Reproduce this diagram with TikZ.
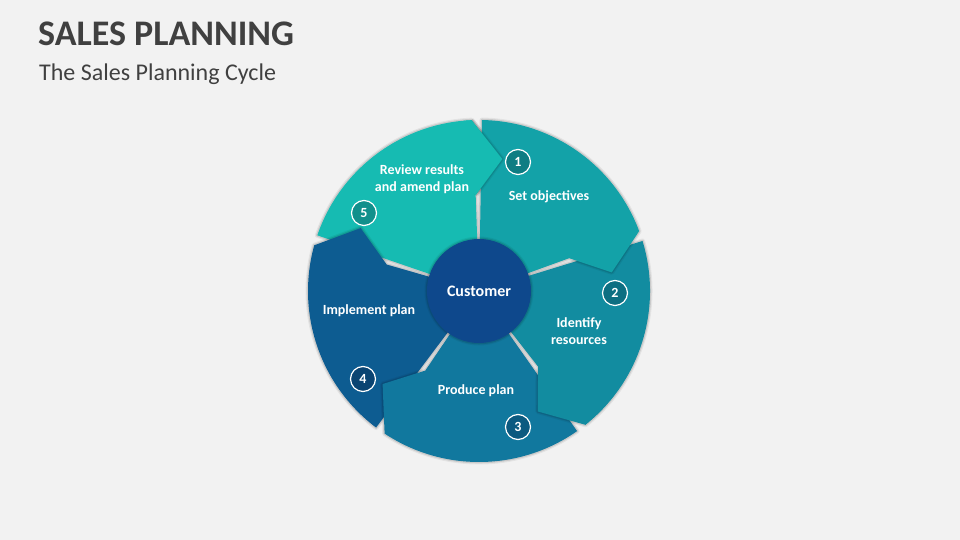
\documentclass[tikz,border=0pt]{standalone}
\usepackage{fontspec}
\setmainfont{Carlito}
\definecolor{bg}{HTML}{F2F2F2}
\definecolor{titlec}{HTML}{404040}
\definecolor{c1}{HTML}{13A2A8}
\definecolor{c2}{HTML}{128CA0}
\definecolor{c3}{HTML}{11789E}
\definecolor{c4}{HTML}{0D5C91}
\definecolor{c5}{HTML}{16BBB2}
\definecolor{cc}{HTML}{0E488C}
\definecolor{n1}{HTML}{0E7D83}
\definecolor{n2}{HTML}{0D6F82}
\definecolor{n3}{HTML}{0C5A80}
\definecolor{n4}{HTML}{0A4472}
\definecolor{n5}{HTML}{11908C}
\begin{document}
\begin{tikzpicture}[x=1pt,y=1pt,
  halo/.style={preaction={draw=black,draw opacity=0.06,line width=5pt,line join=round},
               preaction={draw=black,draw opacity=0.11,line width=2.6pt,line join=round}},
  numc/.style={circle,minimum size=25pt,inner sep=0pt,draw=white,line width=1.2pt,
               text=white,font=\bfseries\fontsize{14}{16}\selectfont},
  lbl/.style={text=white,align=center,font=\bfseries\fontsize{14}{17}\selectfont,inner sep=0pt}]
\useasboundingbox (0,0) rectangle (960,540);
\fill[bg] (0,0) rectangle (960,540);
\node[anchor=base west,inner sep=0pt,text=titlec,font=\bfseries\fontsize{36}{40}\selectfont] (title) at (38,494) {SALES PLANNING};
\node[anchor=base west,inner sep=0pt,text=titlec,font=\fontsize{24}{28}\selectfont] (sub) at (39,459) {The Sales Planning Cycle};
\begin{scope}[shift={(479,249)}]
  \foreach \t/\h/\c in {-198/-270/c5, -126/-198/c4, -54/-126/c3, 18/-54/c2, 90/18/c1} {
    \path[halo, fill=\c] ({\t-1}:171pt) arc[start angle={\t-1}, end angle={\h+2.5}, radius=171pt]
      -- ({\h-10}:134pt) -- ({\h+2}:96pt) -- ({\h+2}:45pt)
      arc[start angle={\h+2}, end angle={\t-1}, radius=45pt] -- cycle;
  }
  % head of segment 5 over segment 1
  \draw[black,draw opacity=0.06,line width=5pt,line join=round] (-267.5:171pt) -- (-280:134pt) -- (-268:96pt);
  \draw[black,draw opacity=0.11,line width=2.6pt,line join=round] (-267.5:171pt) -- (-280:134pt) -- (-268:96pt);
  \fill[c5] (-267.5:171pt) -- (-280:134pt) -- (-268:96pt) -- (-265:100pt) -- (-265:171pt) -- cycle;
  \node[circle,minimum size=104pt,inner sep=0pt,fill=cc,halo,text=white,font=\bfseries\fontsize{16}{18}\selectfont] (cust) at (0,0) {Customer};
\end{scope}
\node[lbl] (l5) at (422,361) {Review results\\and amend plan};
\node[lbl] (l1) at (549,343) {Set objectives};
\node[lbl] (l2) at (579,209) {Identify\\resources};
\node[lbl] (l3) at (476,149) {Produce plan};
\node[lbl] (l4) at (369,229) {Implement plan};
\node[numc,fill=n1] (b1) at (518,378) {1};
\node[numc,fill=n2] (b2) at (615,247) {2};
\node[numc,fill=n3] (b3) at (518,113) {3};
\node[numc,fill=n4] (b4) at (363,161) {4};
\node[numc,fill=n5] (b5) at (364,327) {5};
\end{tikzpicture}
\end{document}
